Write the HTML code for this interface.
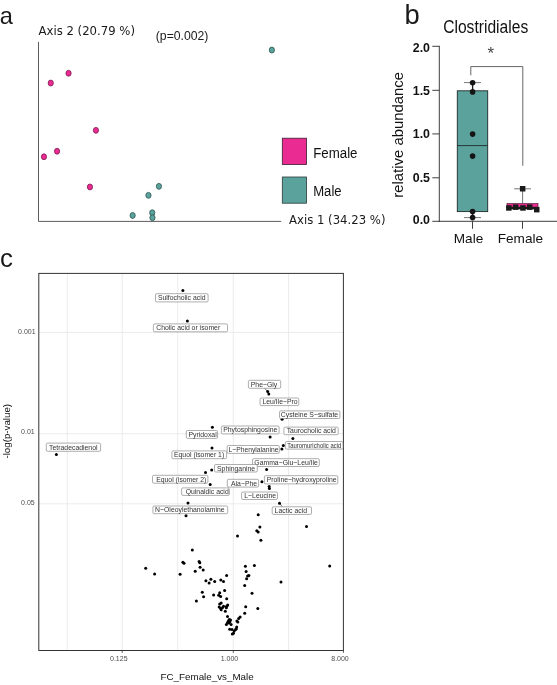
<!DOCTYPE html>
<html lang="en"><head><meta charset="utf-8"><title>Figure</title>
<style>
html,body{margin:0;padding:0;background:#fff;}
svg{display:block;}
text{font-family:"Liberation Sans",Arial,Helvetica,sans-serif;}
.dv{font-family:"DejaVu Sans","Liberation Sans",sans-serif;}
.lab{font-size:7.5px;fill:#333;}
.tk{font-size:7px;fill:#4d4d4d;}
.bt{font-size:13px;font-weight:bold;fill:#111;}
</style></head><body>
<svg width="557" height="685" viewBox="0 0 557 685">
<rect width="557" height="685" fill="#fff"/>

<text x="-0.3" y="23.9" font-size="23.6" fill="#1a1a1a">a</text>
<text x="404.5" y="23.8" font-size="27.4" fill="#1a1a1a">b</text>
<text x="0" y="266.9" font-size="25.8" fill="#1a1a1a">c</text>
<g id="panel-a">
<path d="M38.5 42 V221.4 H281.2" fill="none" stroke="#4a4a4a" stroke-width="0.9"/>
<text class="dv" x="38.5" y="35.3" font-size="12" fill="#1a1a1a" textLength="96.5" lengthAdjust="spacingAndGlyphs">Axis 2 (20.79 %)</text>
<text class="dv" x="289" y="223.6" font-size="12" fill="#1a1a1a" textLength="96.5" lengthAdjust="spacingAndGlyphs">Axis 1 (34.23 %)</text>
<text x="155.8" y="40.2" font-size="12.2" fill="#1a1a1a" textLength="52.6" lengthAdjust="spacingAndGlyphs">(p=0.002)</text>
<ellipse cx="50.75" cy="83.05" rx="2.6" ry="2.95" fill="#ea2b91" stroke="#7d1a50" stroke-width="0.8"/>
<ellipse cx="68.55" cy="73.25" rx="2.6" ry="2.95" fill="#ea2b91" stroke="#7d1a50" stroke-width="0.8"/>
<ellipse cx="95.95" cy="130.35" rx="2.6" ry="2.95" fill="#ea2b91" stroke="#7d1a50" stroke-width="0.8"/>
<ellipse cx="57.05" cy="151.25" rx="2.6" ry="2.95" fill="#ea2b91" stroke="#7d1a50" stroke-width="0.8"/>
<ellipse cx="43.95" cy="156.75" rx="2.6" ry="2.95" fill="#ea2b91" stroke="#7d1a50" stroke-width="0.8"/>
<ellipse cx="89.95" cy="186.95" rx="2.6" ry="2.95" fill="#ea2b91" stroke="#7d1a50" stroke-width="0.8"/>
<ellipse cx="132.65" cy="215.45" rx="2.6" ry="2.95" fill="#5ba29c" stroke="#2a5551" stroke-width="0.8"/>
<ellipse cx="148.45" cy="195.35" rx="2.6" ry="2.95" fill="#5ba29c" stroke="#2a5551" stroke-width="0.8"/>
<ellipse cx="158.95" cy="186.35" rx="2.6" ry="2.95" fill="#5ba29c" stroke="#2a5551" stroke-width="0.8"/>
<ellipse cx="152.25" cy="212.75" rx="2.6" ry="2.95" fill="#5ba29c" stroke="#2a5551" stroke-width="0.8"/>
<ellipse cx="152.45" cy="217.75" rx="2.6" ry="2.95" fill="#5ba29c" stroke="#2a5551" stroke-width="0.8"/>
<ellipse cx="271.85" cy="50.05" rx="2.6" ry="2.95" fill="#5ba29c" stroke="#2a5551" stroke-width="0.8"/>
<rect x="282.3" y="138.2" width="24.3" height="26.4" fill="#ea2b91" stroke="#3a2030" stroke-width="0.8"/>
<rect x="282.3" y="177" width="24.3" height="26.2" fill="#5ba29c" stroke="#2c3a39" stroke-width="0.8"/>
<text x="313.2" y="157.5" font-size="14" fill="#111" textLength="44.3" lengthAdjust="spacingAndGlyphs">Female</text>
<text x="313.2" y="196" font-size="14" fill="#111" textLength="28.4" lengthAdjust="spacingAndGlyphs">Male</text>
</g>
<g id="panel-b">
<text x="443.2" y="33.2" font-size="17.5" fill="#111" textLength="85" lengthAdjust="spacingAndGlyphs">Clostridiales</text>
<text transform="translate(403,197.7) rotate(-90)" font-size="14.9" fill="#111" textLength="125.8" lengthAdjust="spacingAndGlyphs">relative abundance</text>
<path d="M439.3 45.8 V222 M432.3 221.3 H557" fill="none" stroke="#2a2a2a" stroke-width="0.9"/>
<path d="M432.3 46.3 H439.3" stroke="#2a2a2a" stroke-width="0.9"/>
<text class="bt" x="430" y="51.8" text-anchor="end" textLength="17.2" lengthAdjust="spacingAndGlyphs">2.0</text>
<path d="M432.3 90.3 H439.3" stroke="#2a2a2a" stroke-width="0.9"/>
<text class="bt" x="430" y="94.5" text-anchor="end" textLength="17.2" lengthAdjust="spacingAndGlyphs">1.5</text>
<path d="M432.3 133.9 H439.3" stroke="#2a2a2a" stroke-width="0.9"/>
<text class="bt" x="430" y="138.2" text-anchor="end" textLength="17.2" lengthAdjust="spacingAndGlyphs">1.0</text>
<path d="M432.3 177.8 H439.3" stroke="#2a2a2a" stroke-width="0.9"/>
<text class="bt" x="430" y="182.1" text-anchor="end" textLength="17.2" lengthAdjust="spacingAndGlyphs">0.5</text>
<text class="bt" x="430" y="224.3" text-anchor="end" textLength="17.2" lengthAdjust="spacingAndGlyphs">0.0</text>
<path d="M472.5 221.3 V228.8" stroke="#2a2a2a" stroke-width="0.9"/>
<path d="M522.5 221.3 V228.8" stroke="#2a2a2a" stroke-width="0.9"/>
<text x="468.5" y="243" font-size="13.6" fill="#111" text-anchor="middle">Male</text>
<text x="520.4" y="243" font-size="13.6" fill="#111" text-anchor="middle">Female</text>
<path d="M464 82.6 H481 M464 217.6 H481" stroke="#555" stroke-width="0.8" fill="none"/>
<path d="M472.6 82.6 V217.6" stroke="#1a1a1a" stroke-width="1.3" fill="none"/>
<rect x="457.3" y="90.8" width="30.4" height="120.8" fill="#5ba29c" stroke="#1e2a29" stroke-width="0.9"/>
<path d="M457.3 145.6 H487.7" stroke="#1e2a29" stroke-width="0.9"/>
<circle cx="472.6" cy="82.7" r="2.8" fill="#151515"/>
<circle cx="472.6" cy="91.9" r="2.8" fill="#151515"/>
<circle cx="472.6" cy="134.1" r="2.8" fill="#151515"/>
<circle cx="472.6" cy="156.1" r="2.8" fill="#151515"/>
<circle cx="472.6" cy="211.6" r="2.8" fill="#151515"/>
<circle cx="472.6" cy="217.6" r="2.8" fill="#151515"/>
<path d="M470.8 75.3 V66.6 H522.8 V165.8" fill="none" stroke="#555" stroke-width="0.9"/>
<text x="490.9" y="59" font-size="17" fill="#444" text-anchor="middle">*</text>
<path d="M522.6 188.8 V203.5 M514.2 188.8 H531" stroke="#666" stroke-width="0.9" fill="none"/>
<rect x="507" y="203.5" width="31" height="4" fill="#ea2b91" stroke="#3a1028" stroke-width="0.6"/>
<rect x="507" y="206.9" width="31" height="2.4" fill="#1a1a1a"/>
<rect x="519.9" y="186" width="5.5" height="5.5" fill="#1a1a1a"/>
<rect x="506.1" y="205.2" width="5.5" height="5.5" fill="#1a1a1a"/>
<rect x="512.9" y="204.4" width="5.5" height="5.5" fill="#1a1a1a"/>
<rect x="520.2" y="205.2" width="5.5" height="5.5" fill="#1a1a1a"/>
<rect x="527" y="204.4" width="5.5" height="5.5" fill="#1a1a1a"/>
<rect x="534" y="206.9" width="5.5" height="5.5" fill="#1a1a1a"/>
</g>
<g id="panel-c">
<path d="M67.3 273.4 V650.5" stroke="#e6e6e6" stroke-width="0.8"/>
<path d="M122.2 273.4 V650.5" stroke="#e6e6e6" stroke-width="0.8"/>
<path d="M177.7 273.4 V650.5" stroke="#e6e6e6" stroke-width="0.8"/>
<path d="M233.3 273.4 V650.5" stroke="#e6e6e6" stroke-width="0.8"/>
<path d="M288.6 273.4 V650.5" stroke="#e6e6e6" stroke-width="0.8"/>
<path d="M38.8 332.4 H343.4" stroke="#e6e6e6" stroke-width="0.8"/>
<path d="M38.8 433.7 H343.4" stroke="#e6e6e6" stroke-width="0.8"/>
<path d="M38.8 503.8 H343.4" stroke="#e6e6e6" stroke-width="0.8"/>
<rect x="38.8" y="273.4" width="304.6" height="377.1" fill="none" stroke="#333" stroke-width="1"/>
<path d="M122.2 650.5 V652.9" stroke="#333" stroke-width="0.8"/>
<path d="M233.3 650.5 V652.9" stroke="#333" stroke-width="0.8"/>
<path d="M343.4 650.5 V652.9" stroke="#333" stroke-width="0.8"/>
<text class="tk" x="118.8" y="661.2" text-anchor="middle">0.125</text>
<text class="tk" x="229.5" y="661.2" text-anchor="middle">1.000</text>
<text class="tk" x="340" y="661.2" text-anchor="middle">8.000</text>
<text class="tk" x="35.6" y="333.7" text-anchor="end">0.001</text>
<text class="tk" x="34.7" y="434.2" text-anchor="end">0.01</text>
<text class="tk" x="34.7" y="505.0" text-anchor="end">0.05</text>
<text x="160.5" y="680.4" font-size="9.8" fill="#111" textLength="93.2" lengthAdjust="spacingAndGlyphs">FC_Female_vs_Male</text>
<text transform="translate(10.3,458.6) rotate(-90)" font-size="9.8" fill="#111" textLength="54.7" lengthAdjust="spacingAndGlyphs">-log(p-value)</text>
<path d="M264.6 388.3 L267.6 391.4 M279.5 503.2 L282.4 506.8" stroke="#111" stroke-width="0.6"/>
<circle cx="182.9" cy="290.5" r="1.5" fill="#000"/>
<circle cx="187.4" cy="321.1" r="1.5" fill="#000"/>
<circle cx="267.7" cy="391.5" r="1.5" fill="#000"/>
<circle cx="268.8" cy="394.1" r="1.5" fill="#000"/>
<circle cx="282.1" cy="419.3" r="1.5" fill="#000"/>
<circle cx="270.1" cy="437.1" r="1.5" fill="#000"/>
<circle cx="292.9" cy="438.4" r="1.5" fill="#000"/>
<circle cx="283.3" cy="445.5" r="1.5" fill="#000"/>
<circle cx="281.9" cy="448.9" r="1.5" fill="#000"/>
<circle cx="212.4" cy="427.2" r="1.5" fill="#000"/>
<circle cx="212" cy="448.1" r="1.5" fill="#000"/>
<circle cx="211.7" cy="469.9" r="1.5" fill="#000"/>
<circle cx="205.5" cy="472.5" r="1.5" fill="#000"/>
<circle cx="210.2" cy="484.5" r="1.5" fill="#000"/>
<circle cx="56.4" cy="454.5" r="1.5" fill="#000"/>
<circle cx="266.6" cy="469.6" r="1.5" fill="#000"/>
<circle cx="261.9" cy="481.7" r="1.5" fill="#000"/>
<circle cx="269.2" cy="486.4" r="1.5" fill="#000"/>
<circle cx="269.4" cy="488.6" r="1.5" fill="#000"/>
<circle cx="279.5" cy="503.2" r="1.5" fill="#000"/>
<circle cx="188" cy="503" r="1.5" fill="#000"/>
<circle cx="186" cy="515.7" r="1.5" fill="#000"/>
<circle cx="258.2" cy="514.7" r="1.5" fill="#000"/>
<circle cx="306.5" cy="526.6" r="1.5" fill="#000"/>
<circle cx="259.9" cy="527" r="1.5" fill="#000"/>
<circle cx="256.8" cy="530.7" r="1.5" fill="#000"/>
<circle cx="258.2" cy="532.1" r="1.5" fill="#000"/>
<circle cx="260.9" cy="540.2" r="1.5" fill="#000"/>
<circle cx="237.5" cy="536" r="1.5" fill="#000"/>
<circle cx="329.7" cy="565.9" r="1.5" fill="#000"/>
<circle cx="281" cy="581.9" r="1.5" fill="#000"/>
<circle cx="254.4" cy="565.6" r="1.5" fill="#000"/>
<circle cx="245.4" cy="566.3" r="1.5" fill="#000"/>
<circle cx="246.1" cy="571.6" r="1.5" fill="#000"/>
<circle cx="248.9" cy="575.4" r="1.5" fill="#000"/>
<circle cx="247.6" cy="576.1" r="1.5" fill="#000"/>
<circle cx="246.6" cy="578.8" r="1.5" fill="#000"/>
<circle cx="244.7" cy="585.5" r="1.5" fill="#000"/>
<circle cx="252" cy="593.2" r="1.5" fill="#000"/>
<circle cx="192.3" cy="550" r="1.5" fill="#000"/>
<circle cx="182.9" cy="562.2" r="1.5" fill="#000"/>
<circle cx="184" cy="563.3" r="1.5" fill="#000"/>
<circle cx="199.1" cy="561.6" r="1.5" fill="#000"/>
<circle cx="199.8" cy="562.7" r="1.5" fill="#000"/>
<circle cx="145.7" cy="568.3" r="1.5" fill="#000"/>
<circle cx="154.6" cy="574.1" r="1.5" fill="#000"/>
<circle cx="180.1" cy="574.2" r="1.5" fill="#000"/>
<circle cx="195.2" cy="571.2" r="1.5" fill="#000"/>
<circle cx="200.1" cy="567.3" r="1.5" fill="#000"/>
<circle cx="203.2" cy="570.1" r="1.5" fill="#000"/>
<circle cx="226.6" cy="575.5" r="1.5" fill="#000"/>
<circle cx="205.9" cy="580.7" r="1.5" fill="#000"/>
<circle cx="210.9" cy="579.2" r="1.5" fill="#000"/>
<circle cx="209.1" cy="583" r="1.5" fill="#000"/>
<circle cx="214.7" cy="581.6" r="1.5" fill="#000"/>
<circle cx="220.8" cy="580.1" r="1.5" fill="#000"/>
<circle cx="223.5" cy="581.6" r="1.5" fill="#000"/>
<circle cx="202.3" cy="592.3" r="1.5" fill="#000"/>
<circle cx="203.6" cy="596.8" r="1.5" fill="#000"/>
<circle cx="213.6" cy="594.9" r="1.5" fill="#000"/>
<circle cx="196.4" cy="601.1" r="1.5" fill="#000"/>
<circle cx="224.6" cy="590.5" r="1.5" fill="#000"/>
<circle cx="219.7" cy="592.7" r="1.5" fill="#000"/>
<circle cx="218.7" cy="595.2" r="1.5" fill="#000"/>
<circle cx="220.6" cy="596.5" r="1.5" fill="#000"/>
<circle cx="226.7" cy="598.7" r="1.5" fill="#000"/>
<circle cx="221.2" cy="602.9" r="1.5" fill="#000"/>
<circle cx="219.7" cy="604" r="1.5" fill="#000"/>
<circle cx="227.7" cy="605.1" r="1.5" fill="#000"/>
<circle cx="226.6" cy="606.2" r="1.5" fill="#000"/>
<circle cx="226.4" cy="607.8" r="1.5" fill="#000"/>
<circle cx="223.5" cy="606.2" r="1.5" fill="#000"/>
<circle cx="222.6" cy="607.6" r="1.5" fill="#000"/>
<circle cx="219.2" cy="607.1" r="1.5" fill="#000"/>
<circle cx="220.6" cy="608.5" r="1.5" fill="#000"/>
<circle cx="221.2" cy="609.8" r="1.5" fill="#000"/>
<circle cx="225.3" cy="611.3" r="1.5" fill="#000"/>
<circle cx="245.7" cy="606.8" r="1.5" fill="#000"/>
<circle cx="257.8" cy="608.5" r="1.5" fill="#000"/>
<circle cx="244.7" cy="613.2" r="1.5" fill="#000"/>
<circle cx="227.5" cy="616.5" r="1.5" fill="#000"/>
<circle cx="240.1" cy="617" r="1.5" fill="#000"/>
<circle cx="238.7" cy="618.5" r="1.5" fill="#000"/>
<circle cx="236.9" cy="621" r="1.5" fill="#000"/>
<circle cx="237.8" cy="621.9" r="1.5" fill="#000"/>
<circle cx="229.3" cy="619.4" r="1.5" fill="#000"/>
<circle cx="230.5" cy="620.1" r="1.5" fill="#000"/>
<circle cx="228.4" cy="621" r="1.5" fill="#000"/>
<circle cx="229.9" cy="621.7" r="1.5" fill="#000"/>
<circle cx="227.5" cy="622.4" r="1.5" fill="#000"/>
<circle cx="226.4" cy="624.4" r="1.5" fill="#000"/>
<circle cx="228.9" cy="623" r="1.5" fill="#000"/>
<circle cx="231.1" cy="624.4" r="1.5" fill="#000"/>
<circle cx="236.7" cy="626.9" r="1.5" fill="#000"/>
<circle cx="236.3" cy="628.7" r="1.5" fill="#000"/>
<circle cx="235.6" cy="629.6" r="1.5" fill="#000"/>
<circle cx="229.7" cy="629.3" r="1.5" fill="#000"/>
<circle cx="232" cy="629.4" r="1.5" fill="#000"/>
<circle cx="234.2" cy="631.1" r="1.5" fill="#000"/>
<circle cx="233.5" cy="633.2" r="1.5" fill="#000"/>
<circle cx="232.3" cy="634" r="1.5" fill="#000"/>
<rect x="155.5" y="293.7" width="52.6" height="8.2" rx="1.3" fill="#fff" stroke="#6a6a6a" stroke-width="0.55"/>
<text class="lab" x="157.9" y="300.3" textLength="47.6" lengthAdjust="spacingAndGlyphs">Sulfocholic acid</text>
<rect x="153.4" y="323.9" width="74.1" height="7.9" rx="1.3" fill="#fff" stroke="#6a6a6a" stroke-width="0.55"/>
<text class="lab" x="156.2" y="330.4" textLength="64.0" lengthAdjust="spacingAndGlyphs">Cholic acid or isomer</text>
<rect x="248.4" y="380.3" width="32.3" height="8.0" rx="1.3" fill="#fff" stroke="#6a6a6a" stroke-width="0.55"/>
<text class="lab" x="250.8" y="386.8" textLength="26.5" lengthAdjust="spacingAndGlyphs">Phe−Gly</text>
<rect x="260.1" y="398.0" width="38.7" height="7.6" rx="1.3" fill="#fff" stroke="#6a6a6a" stroke-width="0.55"/>
<text class="lab" x="262.4" y="404.3" textLength="35.2" lengthAdjust="spacingAndGlyphs">Leu/Ile−Pro</text>
<rect x="279.5" y="410.9" width="60.4" height="7.6" rx="1.3" fill="#fff" stroke="#6a6a6a" stroke-width="0.55"/>
<text class="lab" x="280.8" y="417.2" textLength="57.3" lengthAdjust="spacingAndGlyphs">Cysteine S−sulfate</text>
<rect x="221.4" y="426.0" width="57.7" height="7.9" rx="1.3" fill="#fff" stroke="#6a6a6a" stroke-width="0.55"/>
<text class="lab" x="223.2" y="432.4" textLength="54.1" lengthAdjust="spacingAndGlyphs">Phytosphingosine</text>
<rect x="283.9" y="427.1" width="54.3" height="7.6" rx="1.3" fill="#fff" stroke="#6a6a6a" stroke-width="0.55"/>
<text class="lab" x="286.7" y="433.4" textLength="49.1" lengthAdjust="spacingAndGlyphs">Taurocholic acid</text>
<rect x="186.3" y="430.5" width="31.3" height="7.9" rx="1.3" fill="#fff" stroke="#6a6a6a" stroke-width="0.55"/>
<text class="lab" x="188.5" y="436.9" textLength="28.2" lengthAdjust="spacingAndGlyphs">Pyridoxal</text>
<rect x="285.3" y="441.5" width="57.7" height="7.6" rx="1.3" fill="#fff" stroke="#6a6a6a" stroke-width="0.55"/>
<text class="lab" x="287.3" y="447.8" textLength="54.0" lengthAdjust="spacingAndGlyphs">Tauromuricholic acid</text>
<rect x="227.1" y="445.5" width="52.2" height="7.9" rx="1.3" fill="#fff" stroke="#6a6a6a" stroke-width="0.55"/>
<text class="lab" x="228.6" y="451.9" textLength="50.0" lengthAdjust="spacingAndGlyphs">L−Phenylalanine</text>
<rect x="46.3" y="443.1" width="54.3" height="8.2" rx="1.3" fill="#fff" stroke="#6a6a6a" stroke-width="0.55"/>
<text class="lab" x="49.1" y="449.7" textLength="48.4" lengthAdjust="spacingAndGlyphs">Tetradecadienol</text>
<rect x="171.9" y="450.9" width="54.7" height="7.8" rx="1.3" fill="#fff" stroke="#6a6a6a" stroke-width="0.55"/>
<text class="lab" x="174.0" y="457.3" textLength="50.2" lengthAdjust="spacingAndGlyphs">Equol (isomer 1)</text>
<rect x="252.5" y="458.7" width="66.8" height="7.8" rx="1.3" fill="#fff" stroke="#6a6a6a" stroke-width="0.55"/>
<text class="lab" x="254.3" y="465.1" textLength="63.6" lengthAdjust="spacingAndGlyphs">Gamma−Glu−Leu/Ile</text>
<rect x="214.5" y="464.5" width="42.8" height="7.5" rx="1.3" fill="#fff" stroke="#6a6a6a" stroke-width="0.55"/>
<text class="lab" x="217.0" y="470.8" textLength="38.1" lengthAdjust="spacingAndGlyphs">Sphinganine</text>
<rect x="152.5" y="475.3" width="55.4" height="7.9" rx="1.3" fill="#fff" stroke="#6a6a6a" stroke-width="0.55"/>
<text class="lab" x="156.2" y="481.8" textLength="50.2" lengthAdjust="spacingAndGlyphs">Equol (isomer 2)</text>
<rect x="264.4" y="475.7" width="73.4" height="8.2" rx="1.3" fill="#fff" stroke="#6a6a6a" stroke-width="0.55"/>
<text class="lab" x="266.7" y="482.3" textLength="69.9" lengthAdjust="spacingAndGlyphs">Proline−hydroxyproline</text>
<rect x="227.3" y="479.3" width="31.3" height="7.8" rx="1.3" fill="#fff" stroke="#6a6a6a" stroke-width="0.55"/>
<text class="lab" x="231.0" y="485.7" textLength="26.1" lengthAdjust="spacingAndGlyphs">Ala−Phe</text>
<rect x="181.6" y="487.9" width="47.8" height="7.5" rx="1.3" fill="#fff" stroke="#6a6a6a" stroke-width="0.55"/>
<text class="lab" x="185.7" y="494.1" textLength="43.0" lengthAdjust="spacingAndGlyphs">Quinaldic acid</text>
<rect x="241.6" y="492.0" width="35.9" height="7.5" rx="1.3" fill="#fff" stroke="#6a6a6a" stroke-width="0.55"/>
<text class="lab" x="244.3" y="498.2" textLength="31.8" lengthAdjust="spacingAndGlyphs">L−Leucine</text>
<rect x="152.9" y="506.0" width="74.8" height="7.7" rx="1.3" fill="#fff" stroke="#6a6a6a" stroke-width="0.55"/>
<text class="lab" x="155.1" y="512.4" textLength="69.5" lengthAdjust="spacingAndGlyphs">N−Oleoylethanolamine</text>
<rect x="272.2" y="506.8" width="39.3" height="7.6" rx="1.3" fill="#fff" stroke="#6a6a6a" stroke-width="0.55"/>
<text class="lab" x="274.6" y="513.1" textLength="32.4" lengthAdjust="spacingAndGlyphs">Lactic acid</text>
</g>
</svg></body></html>
